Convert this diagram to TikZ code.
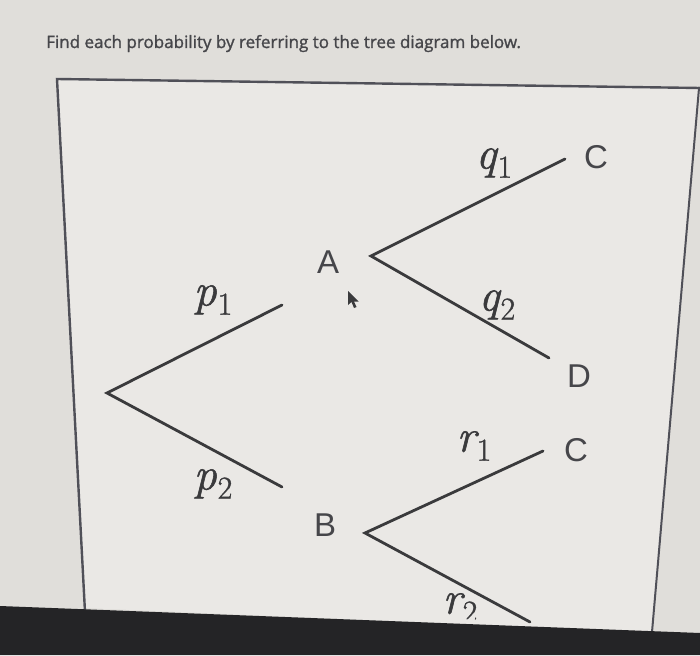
\documentclass[tikz,border=0pt]{standalone}
\usepackage{fontspec}
\newfontfamily\titlef[FakeBold=1.3]{Open Sans}
\newfontfamily\lettersf{Liberation Sans}
\newfontfamily\probf[FakeBold=1.2]{Latin Modern Roman}
\newcommand\probl[2]{{\probf\itshape #1}\kern0.02em\raisebox{-0.2em}{\probf\fontsize{32}{34}\selectfont #2}}
\begin{document}
\begin{tikzpicture}[x=1pt,y=-1pt,
  branch/.style={draw=linegray,line width=2.8pt,line cap=round},
  leaf/.style={font=\lettersf\fontsize{33}{36}\selectfont,text=lettergray,inner sep=0pt,anchor=center},
  prob/.style={font=\fontsize{46}{50}\selectfont,text=linegray,inner sep=0pt,anchor=center}]
\definecolor{bgout}{RGB}{224,222,218}
\definecolor{bgin}{RGB}{234,232,229}
\definecolor{linegray}{RGB}{58,58,60}
\definecolor{lettergray}{RGB}{70,70,74}
\definecolor{boxgray}{RGB}{80,80,88}
\definecolor{darkbar}{RGB}{36,36,38}
\useasboundingbox (0,0) rectangle (700,655);
\fill[bgout] (0,0) rectangle (700,655);
% box
\fill[bgin] (85,608) -- (57,79) -- (699,88) -- (652,632) -- cycle;
\draw[boxgray,line width=2.4pt] (85,612) -- (57,79) -- (700,88);
\draw[boxgray,line width=2pt] (700,88) -- (699,88) -- (652,632);
% dark bar
\fill[darkbar] (0,606) -- (700,633) -- (700,655) -- (0,655) -- cycle;
% title
\node[anchor=base west,inner sep=0pt,text=lettergray,font=\titlef\fontsize{17}{20}\selectfont] (title) at (46,48) {Find each probability by referring to the tree diagram below.};
% first tree
\coordinate (root) at (107,393);
\coordinate (pend1) at (282,305);
\coordinate (pend2) at (282,487);
\draw[branch] (pend1) -- (root) -- (pend2);
\node[prob] (p1) at (213,300) {\probl{p}{1}};
\node[prob] (p2) at (213,484) {\probl{p}{2}};
% A subtree
\node[leaf] (A) at (328,262) {A};
\coordinate (aroot) at (371,256);
\coordinate (qend1) at (565,159);
\coordinate (qend2) at (549,358);
\draw[branch] (qend1) -- (aroot) -- (qend2);
\node[prob] (q1) at (494,163) {\probl{q}{1}};
\node[prob] (q2) at (497,305) {\probl{q}{2}};
\node[leaf] (C1) at (596,157) {C};
\node[leaf] (D) at (579,376) {D};
% B subtree
\node[leaf] (B) at (325,525) {B};
\coordinate (broot) at (365,533);
\coordinate (rend1) at (543,451);
\coordinate (rend2) at (530,622);
\draw[branch] (rend1) -- (broot) -- (rend2);
\node[prob] (r1) at (474,446) {\probl{r}{1}};
\node[leaf] (C2) at (576,450) {C};
\begin{scope}
\clip (0,0) -- (700,0) -- (700,627) -- (0,603) -- cycle;
\node[prob] (r2) at (460,608) {\probl{r}{2}};
\end{scope}
% cursor
\fill[linegray] (348,291) -- (348,305) -- (351.5,302) -- (354,308) -- (356.5,307) -- (354,301.5) -- (358.5,301.5) -- cycle;
\end{tikzpicture}
\end{document}
